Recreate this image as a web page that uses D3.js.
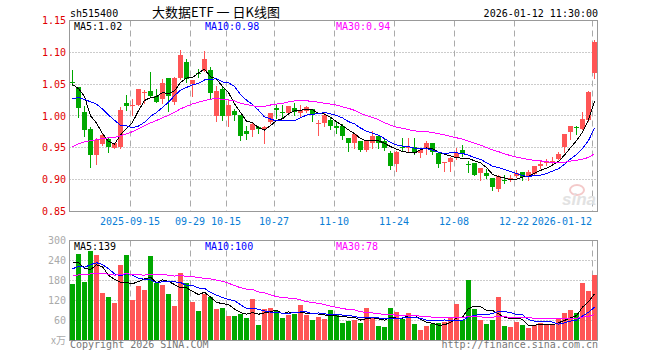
<!DOCTYPE html>
<html>
<head>
<meta charset="utf-8">
<script src="https://cdn.jsdelivr.net/npm/d3@7"></script>
<style>
  body { margin: 0; background: #fff; }
  svg { display: block; }
  text { font-family: "DejaVu Sans Mono", "Liberation Mono", monospace; font-size: 10px; }
</style>
</head>
<body>
<svg id="chart" width="660" height="360"></svg>
<script>
// trading days shown (one candle each)
const dates = ('2025-09-01 2025-09-02 2025-09-03 2025-09-04 2025-09-05 2025-09-08 2025-09-09 2025-09-10 2025-09-11 2025-09-12 ' +
    '2025-09-15 2025-09-16 2025-09-17 2025-09-18 2025-09-19 2025-09-22 2025-09-23 2025-09-24 2025-09-25 2025-09-26 ' +
    '2025-09-29 2025-09-30 2025-10-09 2025-10-10 2025-10-13 2025-10-14 2025-10-15 2025-10-16 2025-10-17 2025-10-20 ' +
    '2025-10-21 2025-10-22 2025-10-23 2025-10-24 2025-10-27 2025-10-28 2025-10-29 2025-10-30 2025-10-31 2025-11-03 ' +
    '2025-11-04 2025-11-05 2025-11-06 2025-11-07 2025-11-10 2025-11-11 2025-11-12 2025-11-13 2025-11-14 2025-11-17 ' +
    '2025-11-18 2025-11-19 2025-11-20 2025-11-21 2025-11-24 2025-11-25 2025-11-26 2025-11-27 2025-11-28 2025-12-01 ' +
    '2025-12-02 2025-12-03 2025-12-04 2025-12-05 2025-12-08 2025-12-09 2025-12-10 2025-12-11 2025-12-12 2025-12-15 ' +
    '2025-12-16 2025-12-17 2025-12-18 2025-12-19 2025-12-22 2025-12-23 2025-12-24 2025-12-25 2025-12-26 2025-12-29 ' +
    '2025-12-30 2025-12-31 2026-01-05 2026-01-06 2026-01-07 2026-01-08 2026-01-09 2026-01-12').split(' ');

const opens = [1.054,1.046,1.007,0.979,0.939,0.956,0.964,0.950,0.952,1.021, 1.016,1.018,1.036,1.040,1.032,1.026,1.060,1.022,1.060,1.085,
    1.051,1.068,1.070,1.072,1.000,1.043,1.000,1.008,1.002,0.977, 0.978,0.983,0.979,0.990,1.013,1.007,1.004,1.013,1.004,1.008,
    1.011,0.988,0.989,0.993,0.985,0.985,0.965,0.957,0.960,0.946, 0.958,0.968,0.960,0.942,0.925,0.952,0.950,0.952,0.942,0.950,
    0.957,0.942,0.927,0.927,0.934,0.946,0.924,0.926,0.910,0.910, 0.903,0.885,0.899,0.901,0.906,0.912,0.906,0.909,0.921,0.927,
    0.928,0.932,0.951,0.975,0.983,0.979,0.993,1.068];
const highs = [1.073,1.046,1.015,0.983,0.965,0.973,0.967,0.957,1.014,1.033, 1.027,1.042,1.041,1.069,1.043,1.058,1.060,1.061,1.104,1.089,
    1.057,1.074,1.102,1.077,1.047,1.047,1.026,1.011,1.002,0.985, 0.989,0.985,0.984,1.004,1.018,1.018,1.016,1.021,1.017,1.015,
    1.011,0.994,1.004,0.998,0.992,0.988,0.965,0.972,0.960,0.963, 0.976,0.968,0.965,0.945,0.945,0.965,0.966,0.965,0.950,0.961,
    0.957,0.942,0.928,0.935,0.950,0.954,0.929,0.926,0.918,0.917, 0.903,0.907,0.907,0.907,0.915,0.912,0.915,0.921,0.931,0.933,
    0.936,0.943,0.971,0.985,0.984,1.007,1.040,1.120];
const lows = [1.048,0.998,0.969,0.920,0.924,0.955,0.943,0.950,0.950,1.009, 1.002,1.017,1.020,1.031,1.022,1.020,1.008,1.019,1.058,1.054,
    1.032,1.061,1.070,1.028,0.992,0.994,0.985,0.994,0.962,0.964, 0.969,0.973,0.958,0.989,0.997,0.997,1.003,1.001,1.000,1.006,
    0.992,0.970,0.984,0.980,0.973,0.964,0.945,0.950,0.945,0.945, 0.950,0.950,0.947,0.917,0.913,0.945,0.945,0.941,0.936,0.941,
    0.940,0.920,0.914,0.914,0.933,0.937,0.912,0.907,0.900,0.903, 0.883,0.882,0.895,0.898,0.904,0.900,0.900,0.909,0.918,0.923,
    0.924,0.932,0.943,0.964,0.972,0.979,0.992,1.059];
const closes = [1.053,1.012,0.978,0.939,0.963,0.970,0.951,0.957,1.010,1.015, 1.018,1.042,1.037,1.032,1.022,1.052,1.032,1.060,1.096,1.058,
    1.057,1.067,1.090,1.036,1.040,1.000,1.018,1.002,0.968,0.971, 0.988,0.979,0.983,1.004,1.009,1.004,1.016,1.007,1.010,1.014,
    1.001,0.989,1.001,0.984,0.981,0.968,0.957,0.971,0.946,0.963, 0.968,0.958,0.950,0.921,0.943,0.949,0.952,0.944,0.947,0.957,
    0.944,0.924,0.928,0.934,0.942,0.941,0.923,0.908,0.918,0.905, 0.888,0.905,0.898,0.902,0.911,0.904,0.912,0.921,0.925,0.928,
    0.929,0.940,0.971,0.984,0.982,0.996,1.038,1.116];
// volume, unit 万
const volumes = [170,260,177,270,258,143,131,114,227,257, 122,164,152,254,174,167,140,104,204,174,
    117,89,140,131,95,98,74,74,80,68, 125,47,95,98,90,68,77,80,107,77,
    62,71,66,92,77,54,60,62,54,98, 68,44,41,98,86,65,83,50,32,44,
    50,53,56,68,110,62,182,95,62,50, 62,131,44,41,56,47,38,47,53,50,
    47,68,83,92,83,174,150,198];

// sessions before the window, only used to start the moving averages
const priorCloses = [0.880,0.885,0.895,0.905,0.915,0.925,0.935,0.940,0.920,0.910,
    0.900,0.895,0.905,0.910,0.915,0.920,0.925,0.930,0.935,0.945,
    0.990,1.010,0.975,1.000,1.047,1.045,1.040,1.090,1.020];
const priorVolumes = [150,170,190,210,160,175,200,185,165,220,
    180,170,195,205,160,175,190,185,200,155,
    180,210,190,200,195,260,265,290,188];

const priceTicks = [0.85, 0.90, 0.95, 1.00, 1.05, 1.10, 1.15];
const volumeTicks = [0, 60, 120, 180, 240, 300];
const tickDates = ['2025-09-15','2025-09-29','2025-10-15','2025-10-27','2025-11-10','2025-11-24','2025-12-08','2025-12-22','2026-01-12'];
const tickLabels = ['2025-09-15','09-29','10-15','10-27','11-10','11-24','12-08','12-22','2026-01-12'];

const maPeriods = [5, 10, 30];
const maColors = ['#000000', '#0000ff', '#ff00ff'];
const upColor = '#ff5555';
const downColor = '#00a800';

const svg = d3.select('#chart');
svg.append('rect').attr('width', 660).attr('height', 360).attr('fill', '#fff');

const x = d3.scaleBand().domain(dates).range([70, 597]).paddingInner(1 / 6).paddingOuter(0);
const yPrice = d3.scaleLinear().domain([0.85, 1.15]).range([211.5, 20.5]);
const yVol = d3.scaleLinear().domain([0, 300]).range([340.5, 240.5]);
const left = 69.5, right = 597.5;

function movingAvg(prior, values, n) {
    const all = prior.concat(values);
    return values.map((v, i) => d3.mean(all.slice(i + prior.length - n + 1, i + prior.length + 1)));
}
const priceMAs = maPeriods.map(n => movingAvg(priorCloses, closes, n));
const volMAs = maPeriods.map(n => movingAvg(priorVolumes, volumes, n));

// grids and frames
function drawPanel(y, ticks) {
    const g = svg.append('g');
    const top = y.range()[1], bottom = y.range()[0];
    g.selectAll('.hgrid')
        .data(ticks.slice(1, -1))
        .enter()
        .append('line')
        .attr('x1', left).attr('x2', right)
        .attr('y1', d => Math.floor(y(d)) + 0.5)
        .attr('y2', d => Math.floor(y(d)) + 0.5)
        .attr('stroke', '#999')
        .attr('stroke-dasharray', '1,2');
    g.selectAll('.vgrid')
        .data(tickDates)
        .enter()
        .append('line')
        .attr('x1', d => x(d) + 0.5).attr('x2', d => x(d) + 0.5)
        .attr('y1', top).attr('y2', bottom)
        .attr('stroke', '#aaa')
        .attr('stroke-dasharray', '6,4');
    g.append('rect')
        .attr('x', left).attr('y', top)
        .attr('width', right - left).attr('height', bottom - top)
        .attr('fill', 'none')
        .attr('stroke', '#999');
}
drawPanel(yPrice, priceTicks);
drawPanel(yVol, volumeTicks);

// watermark
svg.append('ellipse')
    .attr('cx', 577).attr('cy', 190).attr('rx', 7).attr('ry', 5)
    .attr('fill', 'none').attr('stroke', '#f4caca').attr('stroke-width', 2);
svg.append('text')
    .attr('x', 596).attr('y', 205)
    .attr('text-anchor', 'end')
    .style('font-family', 'Liberation Sans, Arial, sans-serif')
    .style('font-size', '17px')
    .style('font-style', 'italic')
    .style('font-weight', 'bold')
    .attr('fill', '#e2e2e2')
    .text('sina');

// candles
const isUp = i => closes[i] >= opens[i];
const candles = svg.append('g');
candles.selectAll('.wick')
    .data(dates)
    .enter()
    .append('line')
    .attr('x1', d => x(d) + 2.5).attr('x2', d => x(d) + 2.5)
    .attr('y1', (d, i) => Math.round(yPrice(highs[i])))
    .attr('y2', (d, i) => Math.round(yPrice(lows[i])) + 1)
    .attr('stroke', (d, i) => isUp(i) ? upColor : downColor);
candles.selectAll('.body')
    .data(dates)
    .enter()
    .append('rect')
    .attr('x', d => x(d))
    .attr('width', x.bandwidth())
    .attr('y', (d, i) => Math.round(yPrice(Math.max(opens[i], closes[i]))))
    .attr('height', (d, i) => Math.max(1, Math.round(yPrice(Math.min(opens[i], closes[i]))) - Math.round(yPrice(Math.max(opens[i], closes[i])))))
    .attr('fill', (d, i) => isUp(i) ? upColor : downColor)
    .attr('shape-rendering', 'crispEdges');

// volume bars
svg.append('g').selectAll('rect')
    .data(dates)
    .enter()
    .append('rect')
    .attr('x', d => x(d))
    .attr('width', x.bandwidth())
    .attr('y', (d, i) => Math.round(yVol(volumes[i])))
    .attr('height', (d, i) => 340 - Math.round(yVol(volumes[i])))
    .attr('fill', (d, i) => isUp(i) ? upColor : downColor)
    .attr('shape-rendering', 'crispEdges');

// moving average lines
function drawMAs(series, y) {
    series.forEach((vals, k) => {
        const line = d3.line()
            .x((v, i) => x(dates[i]) + 2.5)
            .y(v => y(v));
        svg.append('path')
            .datum(vals)
            .attr('d', line)
            .attr('fill', 'none')
            .attr('stroke', maColors[k])
            .attr('stroke-width', 1)
            .attr('shape-rendering', 'crispEdges');
    });
}
drawMAs(priceMAs, yPrice);
drawMAs(volMAs, yVol);

// legends
const legendX = [74, 205, 336];
maPeriods.forEach((n, k) => {
    svg.append('text')
        .attr('x', legendX[k]).attr('y', 30)
        .attr('fill', maColors[k])
        .text(`MA${n}:${d3.format('.2f')(priceMAs[k][priceMAs[k].length - 1])}`);
    svg.append('text')
        .attr('x', legendX[k]).attr('y', 250)
        .attr('fill', maColors[k])
        .text(`MA${n}:${d3.format('.0f')(volMAs[k][volMAs[k].length - 1])}`);
});

// axes labels
svg.append('g').selectAll('text')
    .data(priceTicks)
    .enter()
    .append('text')
    .attr('x', 66)
    .attr('y', d => yPrice(d))
    .attr('dy', '0.35em')
    .attr('text-anchor', 'end')
    .attr('fill', '#e00000')
    .text(d => d3.format('.2f')(d));

svg.append('g').selectAll('text')
    .data(volumeTicks)
    .enter()
    .append('text')
    .attr('x', 66)
    .attr('y', d => yVol(d))
    .attr('dy', '0.35em')
    .attr('text-anchor', 'end')
    .attr('fill', '#aaa')
    .style('font-family', d => d === 0 ? '"Noto Sans CJK SC", sans-serif' : null)
    .text(d => d === 0 ? 'x万' : d);

const lastLine = x(dates[dates.length - 1]);
svg.append('g').selectAll('text')
    .data(tickDates)
    .enter()
    .append('text')
    .attr('y', 225)
    .attr('fill', '#0a7ed6')
    .each(function(d, i) {
        const t = d3.select(this).text(tickLabels[i]);
        const w = this.getComputedTextLength();
        let cx = x(d);
        if (cx + w / 2 > lastLine) cx = lastLine - w / 2;
        t.attr('x', cx).attr('text-anchor', 'middle');
    });

// header and footer
svg.append('text').attr('x', 70).attr('y', 17).text('sh515400');
svg.append('text')
    .attr('x', 216).attr('y', 17)
    .attr('text-anchor', 'middle')
    .style('font-family', '"Noto Sans CJK SC", sans-serif')
    .style('font-size', '13px')
    .text('大数据ETF 一 日K线图');
svg.append('text').attr('x', 598).attr('y', 17).attr('text-anchor', 'end').text('2026-01-12 11:30:00');
svg.append('text').attr('x', 70).attr('y', 348).attr('fill', '#777').text('Copyright 2026 SINA.COM');
svg.append('text').attr('x', 598).attr('y', 348).attr('text-anchor', 'end').attr('fill', '#777').text('http://finance.sina.com.cn');
</script>
</body>
</html>
